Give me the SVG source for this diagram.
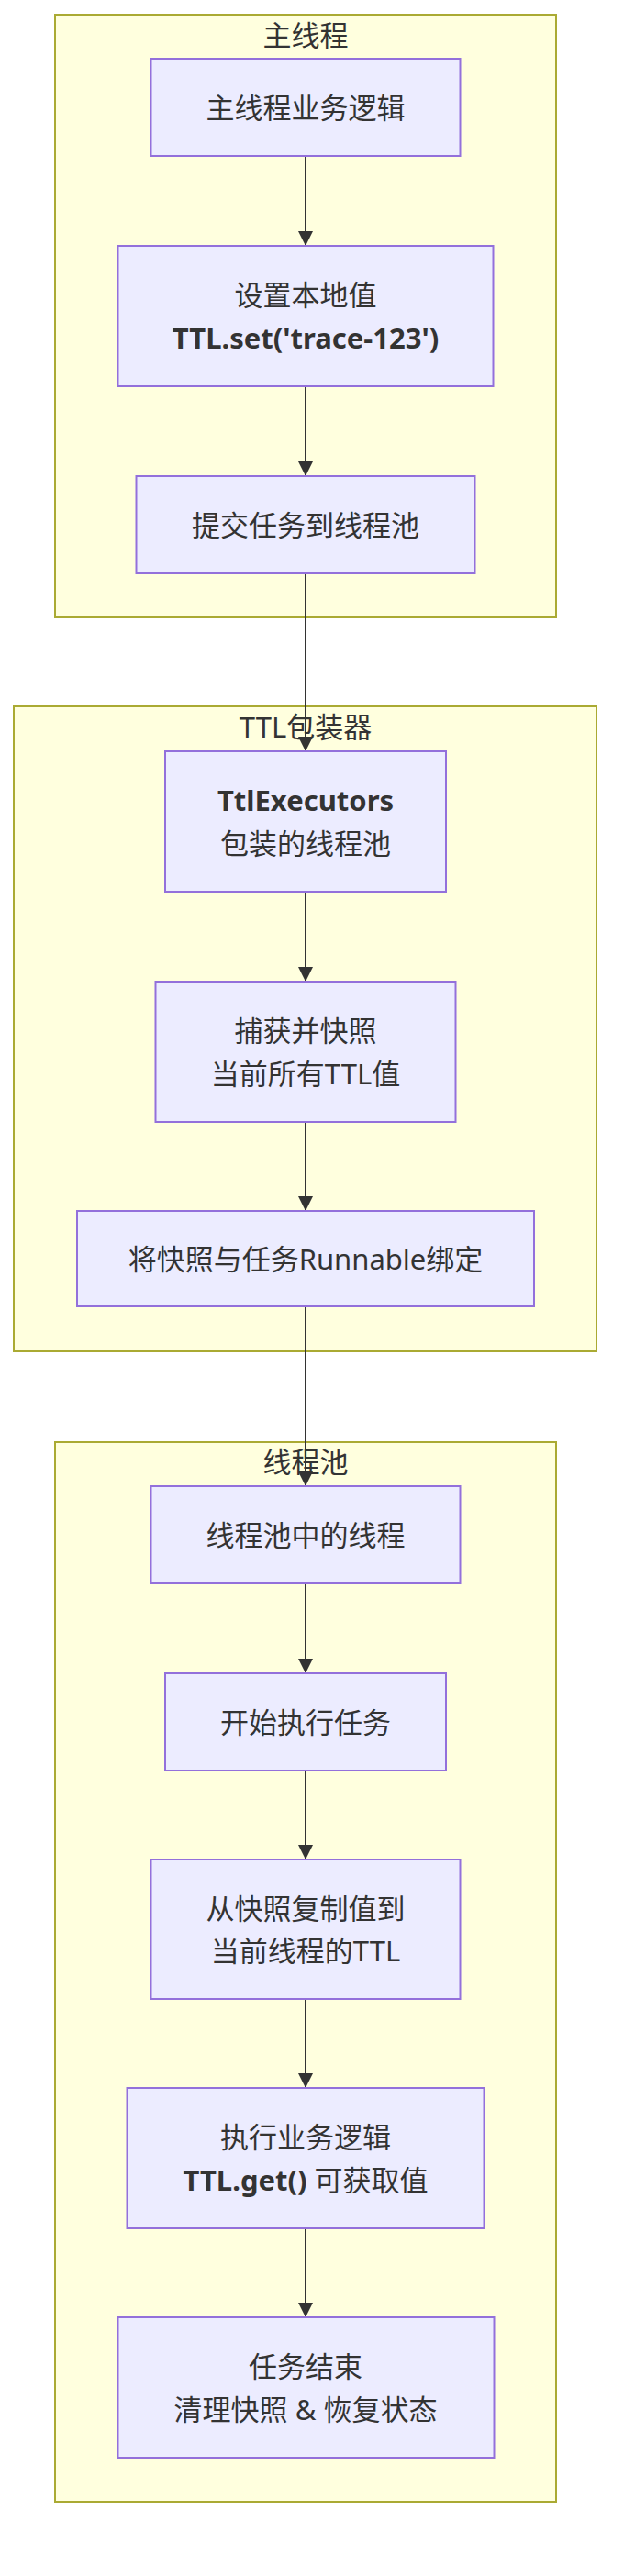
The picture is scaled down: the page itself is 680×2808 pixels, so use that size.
<svg xmlns="http://www.w3.org/2000/svg" width="680" height="2808" viewBox="0 0 680 2808">
<style>
.cluster rect{fill:#ffffde;stroke:#aaaa33;stroke-width:2}
.node rect{fill:#ececff;stroke:#9370db;stroke-width:2}
text{font-family:"Noto Sans","Noto Sans CJK SC",sans-serif;font-size:31px;fill:#333;text-anchor:middle;dominant-baseline:central}
.b{font-weight:bold}
.edges path{stroke:#333;stroke-width:2;fill:none}
</style>
<defs>
<marker id="arr" viewBox="0 0 10 10" refX="10" refY="5" markerUnits="userSpaceOnUse" markerWidth="16" markerHeight="16" orient="auto">
<path d="M0,0 L10,5 L0,10 z" fill="#333"/>
</marker>
</defs>
<rect width="680" height="2808" fill="#fff"/>
<g id="cluster-main" class="cluster"><rect x="60" y="16" width="546" height="657"/><text x="333" y="38">主线程</text></g>
<g id="cluster-ttl" class="cluster"><rect x="15" y="770" width="635" height="703"/><text x="333" y="792">TTL包装器</text></g>
<g id="cluster-pool" class="cluster"><rect x="60" y="1572" width="546" height="1155"/><text x="333" y="1593">线程池</text></g>
<g class="edges" id="edges">
<path d="M333,170 V268" marker-end="url(#arr)"/>
<path d="M333,421 V519" marker-end="url(#arr)"/>
<path d="M333,625 V819" marker-end="url(#arr)"/>
<path d="M333,972 V1070" marker-end="url(#arr)"/>
<path d="M333,1223 V1320" marker-end="url(#arr)"/>
<path d="M333,1424 V1620" marker-end="url(#arr)"/>
<path d="M333,1726 V1824" marker-end="url(#arr)"/>
<path d="M333,1930 V2027" marker-end="url(#arr)"/>
<path d="M333,2179 V2276" marker-end="url(#arr)"/>
<path d="M333,2429 V2526" marker-end="url(#arr)"/>
</g>
<g id="n1" class="node"><rect x="164.5" y="64" width="337" height="106"/><text x="333" y="117">主线程业务逻辑</text></g>
<g id="n2" class="node"><rect x="128.5" y="268" width="409" height="153"/><text x="333" y="321">设置本地值</text><text x="333" y="368" class="b">TTL.set('trace-123')</text></g>
<g id="n3" class="node"><rect x="148.5" y="519" width="369" height="106"/><text x="333" y="572">提交任务到线程池</text></g>
<g id="n4" class="node"><rect x="180" y="819" width="306" height="153"/><text x="333" y="872" class="b">TtlExecutors</text><text x="333" y="919">包装的线程池</text></g>
<g id="n5" class="node"><rect x="169.5" y="1070" width="327" height="153"/><text x="333" y="1123">捕获并快照</text><text x="333" y="1170">当前所有TTL值</text></g>
<g id="n6" class="node"><rect x="84" y="1320" width="498" height="104"/><text x="333" y="1372">将快照与任务Runnable绑定</text></g>
<g id="n7" class="node"><rect x="164.5" y="1620" width="337" height="106"/><text x="333" y="1673">线程池中的线程</text></g>
<g id="n8" class="node"><rect x="180" y="1824" width="306" height="106"/><text x="333" y="1877">开始执行任务</text></g>
<g id="n9" class="node"><rect x="164.5" y="2027" width="337" height="152"/><text x="333" y="2080">从快照复制值到</text><text x="333" y="2126">当前线程的TTL</text></g>
<g id="n10" class="node"><rect x="138.5" y="2276" width="389" height="153"/><text x="333" y="2329">执行业务逻辑</text><text x="333" y="2376"><tspan class="b">TTL.get()</tspan> 可获取值</text></g>
<g id="n11" class="node"><rect x="128.5" y="2526" width="410" height="153"/><text x="333" y="2579">任务结束</text><text x="333" y="2626">清理快照 &amp; 恢复状态</text></g>
</svg>
